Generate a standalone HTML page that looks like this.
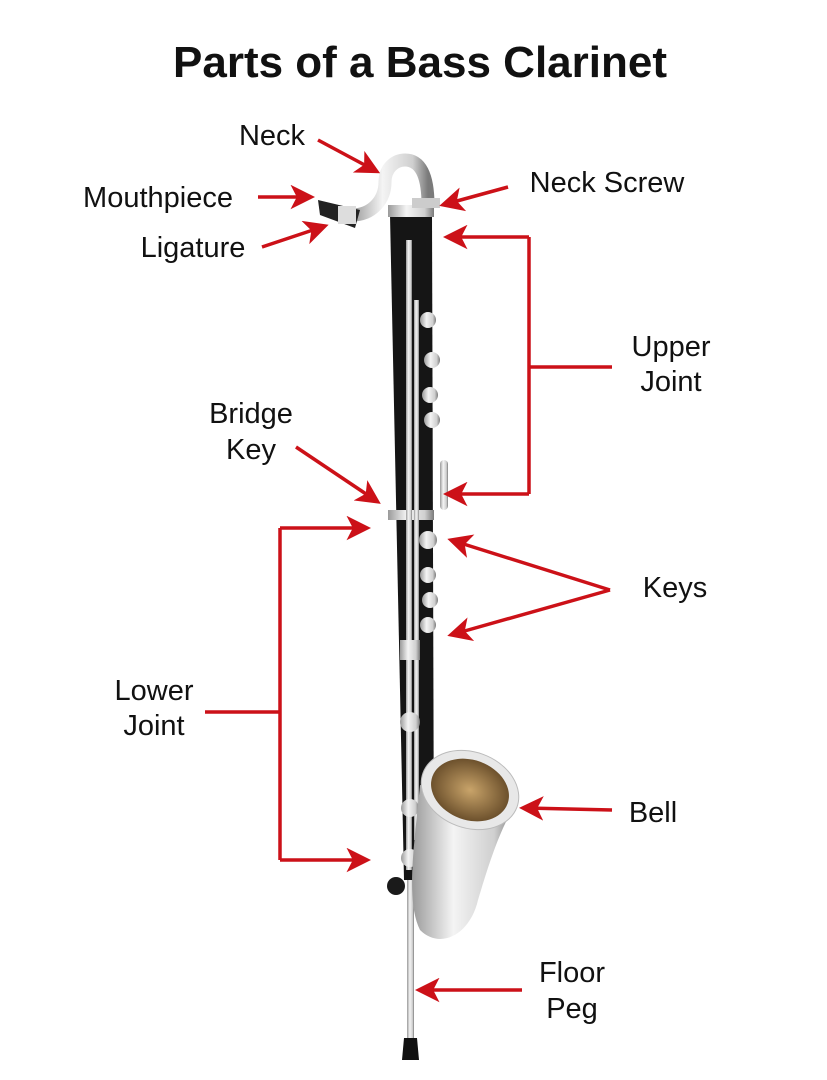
<!DOCTYPE html>
<html><head><style>
body{margin:0;background:#fff;}
svg{display:block;}
text{font-family:"Liberation Sans",sans-serif;fill:#111;}
.l{font-size:29px;}
</style></head><body>
<svg width="827" height="1080" viewBox="0 0 827 1080">
<defs>
<marker id="a" markerWidth="7" markerHeight="7" refX="5" refY="3.5" orient="auto" markerUnits="strokeWidth">
<path d="M0,0 L7,3.5 L0,7 L1.8,3.5 Z" fill="#cc1118"/></marker>
<linearGradient id="silver" x1="0" x2="1"><stop offset="0" stop-color="#9a9a9a"/><stop offset="0.4" stop-color="#f4f4f4"/><stop offset="0.8" stop-color="#cfcfcf"/><stop offset="1" stop-color="#7a7a7a"/></linearGradient>
<radialGradient id="gold" cx="0.5" cy="0.5" r="0.6"><stop offset="0" stop-color="#c9a46a"/><stop offset="1" stop-color="#5a4020"/></radialGradient>
</defs>
<text x="420" y="77" text-anchor="middle" font-size="44" font-weight="bold">Parts of a Bass Clarinet</text>

<rect x="407" y="880" width="7" height="160" fill="url(#silver)"/>
<path d="M404,1038 L417,1038 L419,1060 L402,1060 Z" fill="#111"/>
<circle cx="396" cy="886" r="9" fill="#1a1a1a"/>
<path d="M390,215 L432,215 L434,880 L404,880 Z" fill="#151515"/>
<rect x="388" y="205" width="46" height="12" fill="url(#silver)"/>
<rect x="388" y="510" width="46" height="10" fill="url(#silver)"/>
<g fill="url(#silver)">
<rect x="406" y="240" width="6" height="630"/>
<rect x="414" y="300" width="5" height="540"/>
<circle cx="428" cy="320" r="8"/><circle cx="432" cy="360" r="8"/><circle cx="430" cy="395" r="8"/><circle cx="432" cy="420" r="8"/>
<circle cx="428" cy="540" r="9"/><circle cx="428" cy="575" r="8"/><circle cx="430" cy="600" r="8"/><circle cx="428" cy="625" r="8"/>
<circle cx="410" cy="722" r="10"/><circle cx="410" cy="808" r="9"/><circle cx="410" cy="858" r="9"/>
<rect x="440" y="460" width="8" height="50" rx="4"/>
<rect x="400" y="640" width="20" height="20"/>
</g>
<path d="M352,215 C372,215 385,200 385,182 C385,168 395,160 405,160 C420,160 428,175 428,205" fill="none" stroke="url(#silver)" stroke-width="13"/>
<rect x="412" y="198" width="28" height="10" fill="#ccc"/>
<path d="M318,200 L360,210 L355,228 L320,215 Z" fill="#222"/>
<rect x="338" y="206" width="18" height="18" fill="#ddd"/>
<path d="M420,785 C415,840 405,900 420,930 C440,950 470,935 478,900 C490,860 500,830 515,805 Z" fill="url(#silver)"/>
<ellipse cx="470" cy="790" rx="50" ry="38" transform="rotate(20 470 790)" fill="#e8e8e8" stroke="#bbb"/>
<ellipse cx="470" cy="790" rx="40" ry="30" transform="rotate(20 470 790)" fill="url(#gold)"/>

<g stroke="#cc1118" stroke-width="3.5" fill="none">
<line x1="318" y1="140" x2="374" y2="170" marker-end="url(#a)"/>
<line x1="258" y1="197" x2="308" y2="197" marker-end="url(#a)"/>
<line x1="262" y1="247" x2="322" y2="227" marker-end="url(#a)"/>
<line x1="508" y1="187" x2="446" y2="204" marker-end="url(#a)"/>
<polyline points="529,237 529,494"/>
<line x1="529" y1="237" x2="450" y2="237" marker-end="url(#a)"/>
<line x1="529" y1="494" x2="450" y2="494" marker-end="url(#a)"/>
<line x1="529" y1="367" x2="612" y2="367"/>
<line x1="296" y1="447" x2="375" y2="500" marker-end="url(#a)"/>
<line x1="610" y1="590" x2="454" y2="541" marker-end="url(#a)"/>
<line x1="610" y1="590" x2="454" y2="634" marker-end="url(#a)"/>
<polyline points="280,528 280,860"/>
<line x1="280" y1="528" x2="364" y2="528" marker-end="url(#a)"/>
<line x1="280" y1="860" x2="364" y2="860" marker-end="url(#a)"/>
<line x1="205" y1="712" x2="280" y2="712"/>
<line x1="612" y1="810" x2="526" y2="808" marker-end="url(#a)"/>
<line x1="522" y1="990" x2="422" y2="990" marker-end="url(#a)"/>
</g>

<g>
<text x="272" y="145" text-anchor="middle" class="l">Neck</text>
<text x="158" y="207" text-anchor="middle" class="l">Mouthpiece</text>
<text x="193" y="257" text-anchor="middle" class="l">Ligature</text>
<text x="607" y="192" text-anchor="middle" class="l">Neck Screw</text>
<text x="671" y="356" text-anchor="middle" class="l">Upper</text>
<text x="671" y="391" text-anchor="middle" class="l">Joint</text>
<text x="251" y="423" text-anchor="middle" class="l">Bridge</text>
<text x="251" y="459" text-anchor="middle" class="l">Key</text>
<text x="675" y="597" text-anchor="middle" class="l">Keys</text>
<text x="154" y="700" text-anchor="middle" class="l">Lower</text>
<text x="154" y="735" text-anchor="middle" class="l">Joint</text>
<text x="653" y="822" text-anchor="middle" class="l">Bell</text>
<text x="572" y="982" text-anchor="middle" class="l">Floor</text>
<text x="572" y="1018" text-anchor="middle" class="l">Peg</text>
</g>
</svg>
</body></html>
